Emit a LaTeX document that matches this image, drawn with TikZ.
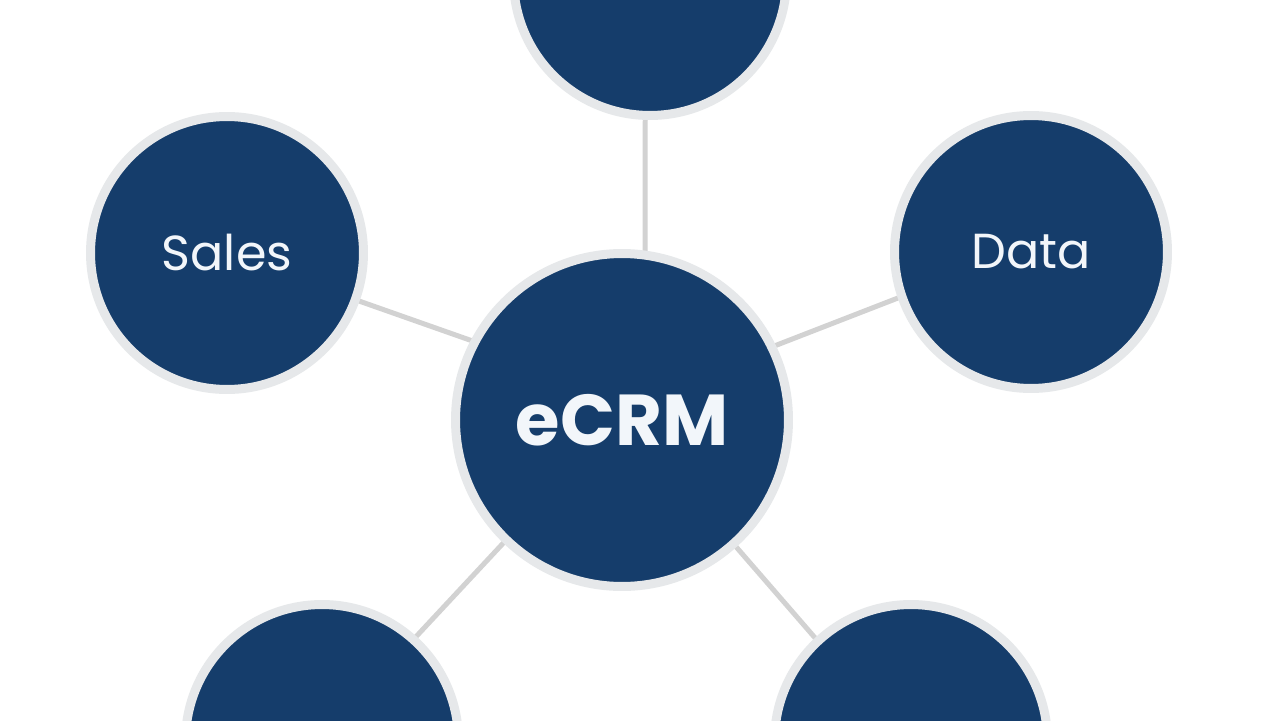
\documentclass[tikz,border=0pt]{standalone}
\usepackage{fontspec}
\setmainfont{Poppins}
\usetikzlibrary{backgrounds}
\definecolor{navy}{RGB}{21,61,107}
\definecolor{ringgray}{RGB}{230,232,234}
\definecolor{linkgray}{RGB}{210,210,210}
\definecolor{txt}{RGB}{242,246,250}
\tikzset{
  bubble/.style={circle, draw=ringgray, fill=navy, line width=0.18cm,
    inner sep=0pt, outer sep=0pt, minimum size=5.46cm, text=txt,
    font=\fontsize{28}{30}\selectfont},
  hub/.style={bubble, minimum size=6.66cm, font=\fontsize{41}{44}\selectfont\bfseries},
  link/.style={draw=linkgray, line width=0.1cm}
}
\begin{document}
\begin{tikzpicture}[x=0.02cm,y=-0.02cm]
\useasboundingbox (0,0) rectangle (1280,720);
\clip (0,0) rectangle (1280,720);
\node[hub] (ecrm) at (622,420) {eCRM};
\node[bubble] (top) at (650,-21) {};
\node[bubble] (sales) at (227,253) {Sales};
\node[bubble] (data) at (1031,252) {Data};
\node[bubble] (bl) at (322,741) {};
\node[bubble] (br) at (911,741) {};
\begin{pgfonlayer}{background}
\fill[white] (0,0) rectangle (1280,720);
\draw[link] (top.-92) -- (ecrm.82.4);
\draw[link] (sales.-20.6) -- (ecrm.152);
\draw[link] (data.199.8) -- (ecrm.26.3);
\draw[link] (bl.48.6) -- (ecrm.226.9);
\draw[link] (br.133.3) -- (ecrm.-48);
\end{pgfonlayer}
\end{tikzpicture}
\end{document}
